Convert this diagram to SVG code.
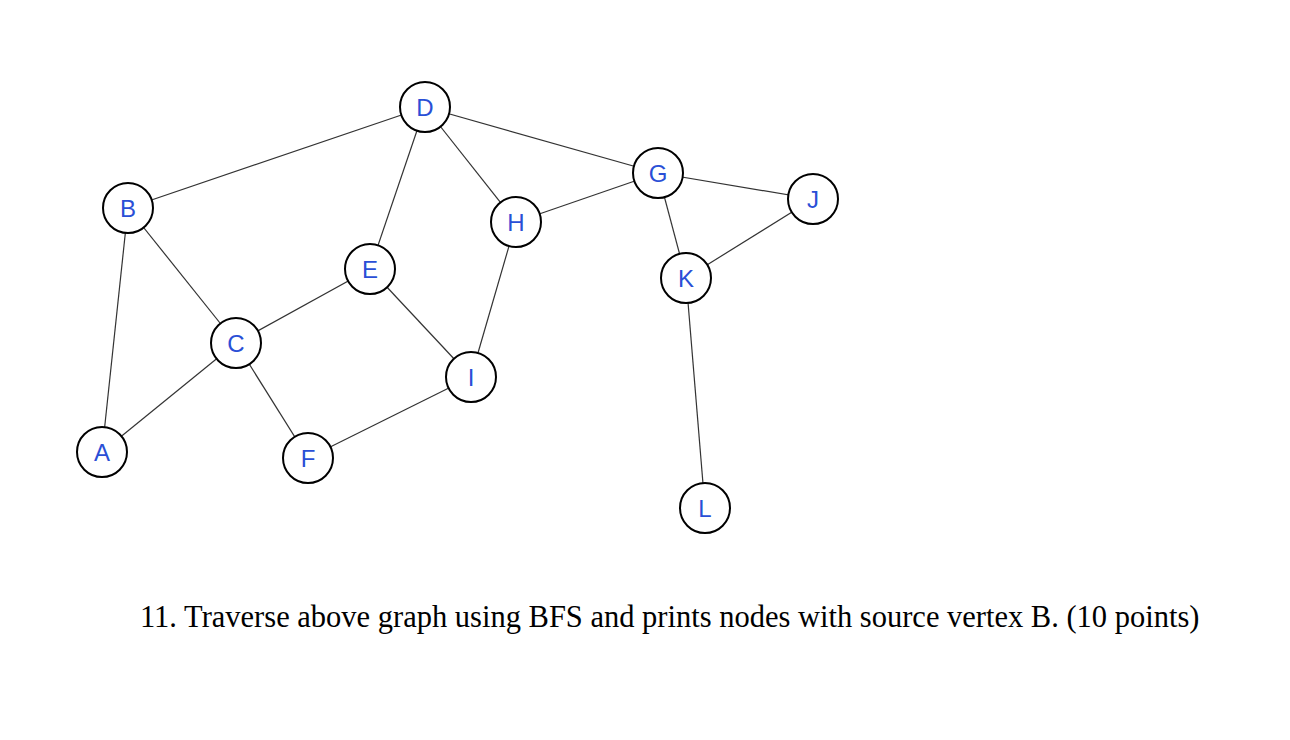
<svg xmlns="http://www.w3.org/2000/svg" width="1290" height="740" viewBox="0 0 1290 740">
<style>
.n circle{fill:#fff;stroke:#000;stroke-width:2}
.n text{font-family:"Liberation Sans",Arial,sans-serif;font-size:24px;fill:#2a4fd6;text-anchor:middle;dominant-baseline:central}
#edges line{stroke:#333;stroke-width:1.2}
</style>
<rect width="1290" height="740" fill="#fff"/>
<g id="edges">
<line x1="128" y1="208" x2="425" y2="107"/>
<line x1="425" y1="107" x2="658" y2="173"/>
<line x1="425" y1="107" x2="370" y2="269"/>
<line x1="425" y1="107" x2="516" y2="222"/>
<line x1="516" y1="222" x2="658" y2="173"/>
<line x1="658" y1="173" x2="813" y2="199"/>
<line x1="658" y1="173" x2="686" y2="278"/>
<line x1="686" y1="278" x2="813" y2="199"/>
<line x1="686" y1="278" x2="705" y2="508"/>
<line x1="128" y1="208" x2="236" y2="343"/>
<line x1="128" y1="208" x2="102" y2="452"/>
<line x1="102" y1="452" x2="236" y2="343"/>
<line x1="236" y1="343" x2="370" y2="269"/>
<line x1="236" y1="343" x2="308" y2="458"/>
<line x1="370" y1="269" x2="471" y2="377"/>
<line x1="516" y1="222" x2="471" y2="377"/>
<line x1="308" y1="458" x2="471" y2="377"/>
</g>
<g id="D" class="n"><circle cx="425" cy="107" r="25"/><text x="425" y="107">D</text></g>
<g id="G" class="n"><circle cx="658" cy="173" r="25"/><text x="658" y="173">G</text></g>
<g id="J" class="n"><circle cx="813" cy="199" r="25"/><text x="813" y="199">J</text></g>
<g id="B" class="n"><circle cx="128" cy="208" r="25"/><text x="128" y="208">B</text></g>
<g id="H" class="n"><circle cx="516" cy="222" r="25"/><text x="516" y="222">H</text></g>
<g id="E" class="n"><circle cx="370" cy="269" r="25"/><text x="370" y="269">E</text></g>
<g id="K" class="n"><circle cx="686" cy="278" r="25"/><text x="686" y="278">K</text></g>
<g id="C" class="n"><circle cx="236" cy="343" r="25"/><text x="236" y="343">C</text></g>
<g id="I" class="n"><circle cx="471" cy="377" r="25"/><text x="471" y="377">I</text></g>
<g id="A" class="n"><circle cx="102" cy="452" r="25"/><text x="102" y="452">A</text></g>
<g id="F" class="n"><circle cx="308" cy="458" r="25"/><text x="308" y="458">F</text></g>
<g id="L" class="n"><circle cx="705" cy="508" r="25"/><text x="705" y="508">L</text></g>
<text x="140" y="627" font-family="'Liberation Serif','Times New Roman',serif" font-size="30.5" fill="#000">11. Traverse above graph using BFS and prints nodes with source vertex B. (10 points)</text>
</svg>
